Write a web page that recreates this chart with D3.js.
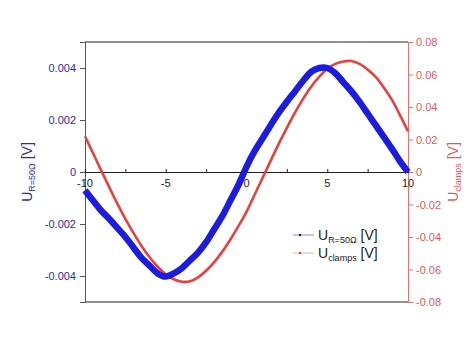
<!DOCTYPE html>
<html>
<head>
<meta charset="utf-8">
<script src="https://cdn.jsdelivr.net/npm/d3@7"></script>
<style>
  body { margin: 0; background: #fff; }
  svg { font-family: "Liberation Sans", Arial, sans-serif; }
</style>
</head>
<body>
<svg id="chart" width="474" height="362"></svg>
<script>
// values (half-unit steps)
const xVals = [-10, -9.5, -9, -8.5, -8, -7.5, -7, -6.5, -6, -5.5, -5, -4.5, -4, -3.5, -3, -2.5, -2, -1.5, -1, -0.5,
  0, 0.5, 1, 1.5, 2, 2.5, 3, 3.5, 4, 4.5, 5, 5.5, 6, 6.5, 7, 7.5, 8, 8.5, 9, 9.5, 10];
const uResistor = [-0.0007, -0.0011, -0.00148, -0.0018, -0.00215, -0.0025, -0.0029, -0.0033, -0.0036, -0.0039,
  -0.00402, -0.0039, -0.0037, -0.0034, -0.0031, -0.0027, -0.0022, -0.0017, -0.0011, -0.0005,
  0.0002, 0.0008, 0.0013, 0.0018, 0.00228, 0.0027, 0.0031, 0.0035, 0.00385, 0.004, 0.004,
  0.0038, 0.00345, 0.0031, 0.0027, 0.00225, 0.0018, 0.00135, 0.0009, 0.00042, 0.0];
const uClamps = [0.022, 0.0115, 0.001, -0.0093, -0.0195, -0.0288, -0.0375, -0.0455, -0.0525, -0.0583,
  -0.063, -0.066, -0.0675, -0.0673, -0.0648, -0.0608, -0.0555, -0.049, -0.0415, -0.0333,
  -0.0245, -0.014, -0.0035, 0.007, 0.0175, 0.0272, 0.0365, 0.045, 0.0525, 0.0585, 0.0635,
  0.0665, 0.068, 0.0683, 0.0665, 0.063, 0.0585, 0.052, 0.0445, 0.035, 0.025];
const xTicks = [-10, -5, 0, 5, 10];
const leftTicks = [-0.004, -0.002, 0, 0.002, 0.004];
const rightTicks = [-0.08, -0.06, -0.04, -0.02, 0, 0.02, 0.04, 0.06, 0.08];

const BLUE = "#1c1ce0", RED = "#e8403c";
const LEFT_TXT = "#2b2ba6", RIGHT_TXT = "#e05a5a", RIGHT_AXIS = "#e57070";

const svg = d3.select("#chart");
const m = {left: 85, right: 408, top: 42, bottom: 302};

const x = d3.scaleLinear().domain([-10, 10]).range([m.left, m.right]);
const yL = d3.scaleLinear().domain([-0.005, 0.005]).range([m.bottom, m.top]);
const yR = d3.scaleLinear().domain([-0.08, 0.08]).range([m.bottom, m.top]);

// frame top/bottom
svg.append("line").attr("x1", m.left).attr("x2", m.right).attr("y1", m.top).attr("y2", m.top)
  .attr("stroke", "#222").attr("stroke-width", 1.2);
svg.append("line").attr("x1", m.left).attr("x2", m.right).attr("y1", m.bottom).attr("y2", m.bottom)
  .attr("stroke", "#222").attr("stroke-width", 1.2);

// left axis
const gL = svg.append("g").attr("transform", `translate(${m.left},0)`);
gL.call(d3.axisLeft(yL).tickValues(d3.range(-0.005, 0.0051, 0.001)).tickSize(3).tickFormat(""));
gL.call(d3.axisLeft(yL).tickValues(leftTicks).tickSize(5).tickPadding(4)
  .tickFormat(d => d === 0 ? "0" : d3.format(".3f")(d).replace("−", "-")));
gL.selectAll("path, line").attr("stroke", "#555");
gL.selectAll("text").attr("fill", LEFT_TXT).attr("font-size", 11);

// right axis
const gR = svg.append("g").attr("transform", `translate(${m.right},0)`);
gR.call(d3.axisRight(yR).tickValues(d3.range(-0.08, 0.081, 0.01)).tickSize(3).tickFormat(""));
gR.call(d3.axisRight(yR).tickValues(rightTicks).tickSize(5).tickPadding(3)
  .tickFormat(d => d === 0 ? "0" : d3.format(".2f")(d).replace("−", "-")));
gR.selectAll("path, line").attr("stroke", RIGHT_AXIS);
gR.selectAll("text").attr("fill", RIGHT_TXT).attr("font-size", 11);

// x axis through zero
const gX = svg.append("g").attr("transform", `translate(0,${yL(0)})`);
gX.call(d3.axisTop(x).tickValues(d3.range(-10, 10.1, 2.5)).tickSize(3).tickFormat(""));
gX.selectAll("path, line").attr("stroke", "#222");
gX.selectAll("path").attr("stroke-width", 1.2);
gX.selectAll(".xl").data(xTicks).enter().append("text")
  .attr("x", d => x(d)).attr("y", 15).attr("text-anchor", "middle")
  .attr("font-size", 11).attr("fill", "#222").text(d => d);

// series
const line = (yS) => d3.line().x((d, i) => x(xVals[i])).y(d => yS(d)).curve(d3.curveCatmullRom);
svg.append("path").datum(uClamps).attr("d", line(yR))
  .attr("fill", "none").attr("stroke", RED).attr("stroke-width", 2.6);
svg.append("path").datum(uResistor).attr("d", line(yL))
  .attr("fill", "none").attr("stroke", BLUE).attr("stroke-width", 6.5).attr("stroke-linejoin", "round");

// legend
const legend = [
  {sub: "R=50\u03A9", line: "#8a8ad0", dot: "#10108a"},
  {sub: "clamps", line: "#f0a8a8", dot: "#c04040"}
];
const lg = svg.append("g");
legend.forEach((d, i) => {
  const yy = 235 + i * 18;
  lg.append("line").attr("x1", 293).attr("x2", 314).attr("y1", yy).attr("y2", yy)
    .attr("stroke", d.line).attr("stroke-width", 1);
  lg.append("circle").attr("cx", 300).attr("cy", yy).attr("r", 1.2).attr("fill", d.dot);
  const t = lg.append("text").attr("x", 318).attr("y", yy + 5).attr("fill", "#222").attr("font-size", 14);
  t.append("tspan").text("U");
  t.append("tspan").attr("font-size", 9).attr("dy", 3).text(d.sub);
  t.append("tspan").attr("dy", -3).text(" [V]");
});

// axis titles
function title(tx, ty, sub, color) {
  const t = svg.append("text").attr("transform", `translate(${tx},${ty}) rotate(-90)`)
    .attr("text-anchor", "middle").attr("fill", color).attr("font-size", 14);
  t.append("tspan").text("U");
  t.append("tspan").attr("font-size", 9).attr("dy", 3).text(sub);
  t.append("tspan").attr("dy", -3).text(" [V]");
}
title(32, 172, "R=50\u03A9", LEFT_TXT);
title(458, 172, "clamps", RIGHT_TXT);
</script>
</body>
</html>
